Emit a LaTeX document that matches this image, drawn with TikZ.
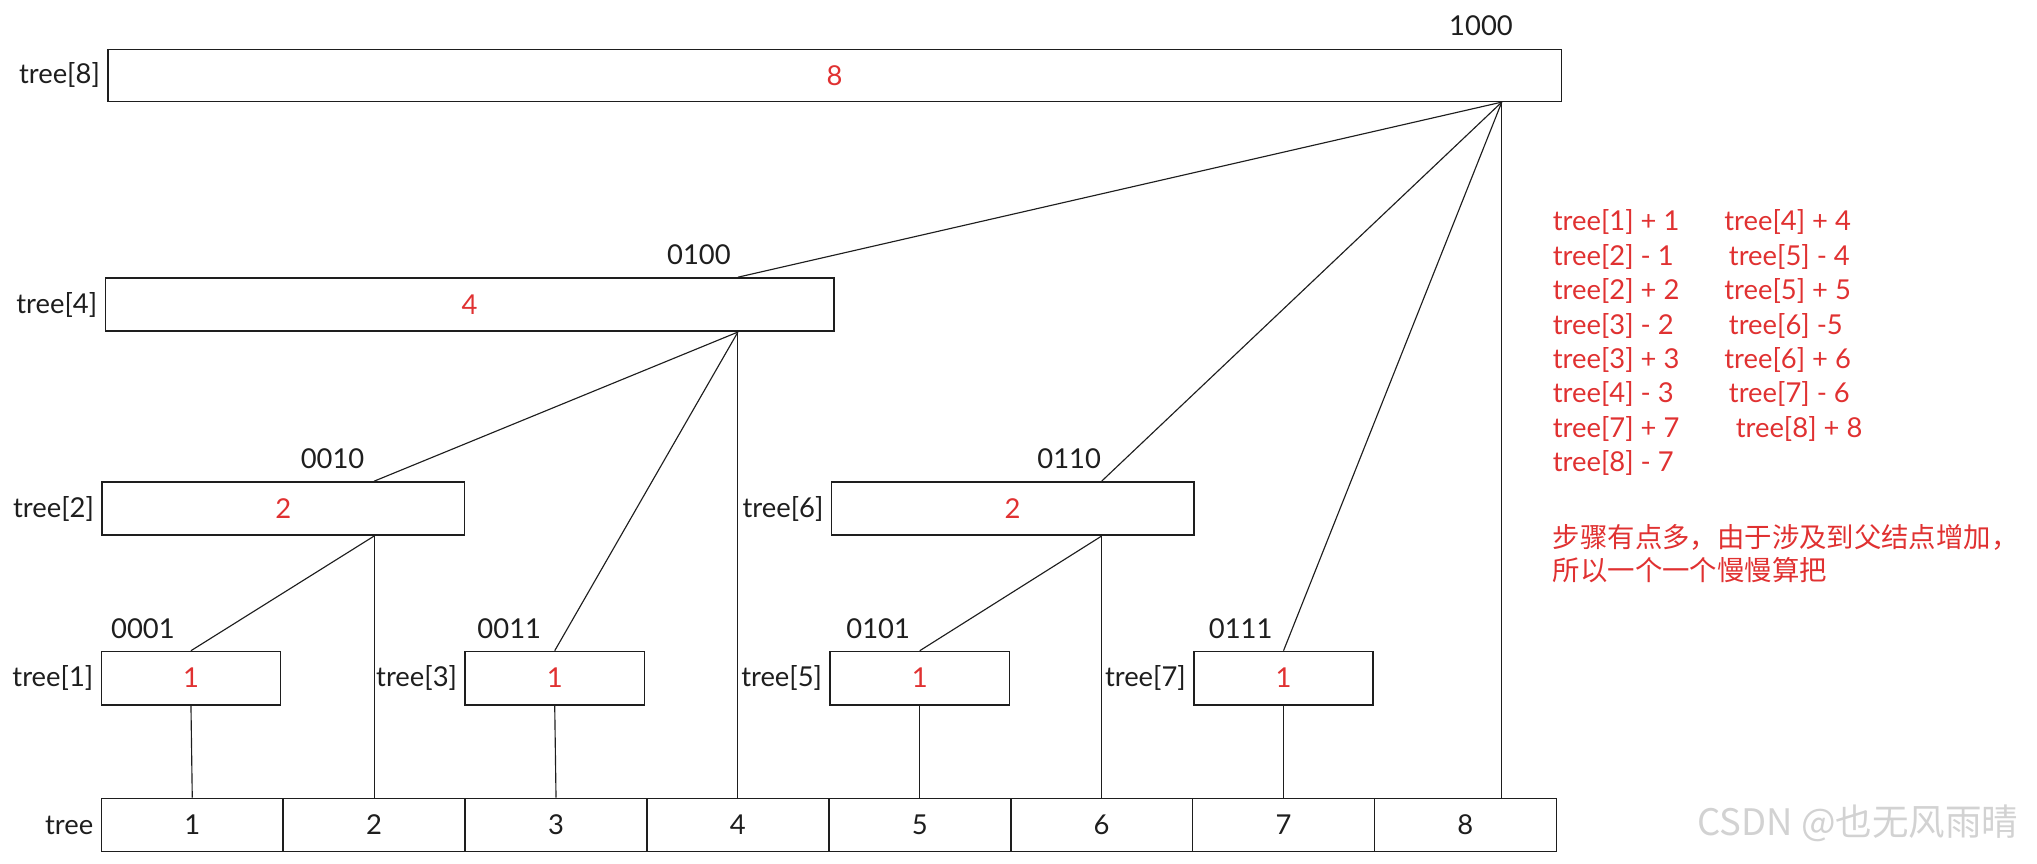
\documentclass[tikz,border=0pt]{standalone}
\usepackage{fontspec}
\setmainfont{Lato}
\newfontfamily\cjkfont{Noto Sans CJK SC}
\usetikzlibrary{positioning}
\definecolor{ink}{HTML}{1E1E1E}
\definecolor{pen}{HTML}{E03131}

\begin{document}
\begin{tikzpicture}[
        x=0.02cm, y=-0.02cm,
        cell/.style={draw=ink, line width=0.7pt, minimum height=0.82cm, inner sep=0pt, text=ink, font=\fontsize{12}{14}\selectfont},
        sum/.style={cell, text=pen},
        side/.style={text=ink, inner sep=3pt, font=\fontsize{12}{14}\selectfont},
        bits/.style={text=ink, inner sep=0pt, font=\fontsize{12}{14}\selectfont},
        link/.style={draw=ink, line width=0.5pt},
        note/.style={text=pen, inner sep=0pt, align=left, anchor=north west}
    ]

    \useasboundingbox (0,0) rectangle (1568,665);

    % the array itself
    \node[cell, minimum width=2.8cm] (b1) at (148,635) {1};
    \node[cell, minimum width=2.8cm] (b2) at (288,635) {2};
    \node[cell, minimum width=2.8cm] (b3) at (428,635) {3};
    \node[cell, minimum width=2.8cm] (b4) at (568,635) {4};
    \node[cell, minimum width=2.8cm] (b5) at (708,635) {5};
    \node[cell, minimum width=2.8cm] (b6) at (848,635) {6};
    \node[cell, minimum width=2.8cm] (b7) at (988,635) {7};
    \node[cell, minimum width=2.8cm] (b8) at (1128,635) {8};
    \node[side, left=0pt of b1] (s0) {tree};

    % tree[] cells, one row per level
    \node[sum, minimum width=2.76cm] (t1) at (147,522) {1};
    \node[sum, minimum width=2.76cm] (t3) at (427,522) {1};
    \node[sum, minimum width=2.76cm] (t5) at (708,522) {1};
    \node[sum, minimum width=2.76cm] (t7) at (988,522) {1};

    \node[sum, minimum width=5.58cm] (t2) at (218,391.5) {2};
    \node[sum, minimum width=5.58cm] (t6) at (779.5,391.5) {2};

    \node[sum, minimum width=11.22cm] (t4) at (361.5,234.5) {4};

    \node[sum, minimum width=22.38cm, minimum height=0.8cm] (t8) at (642.5,58) {8};
    \coordinate (k8) at (1156,58);

    \node[side, left=0pt of t1] (s1) {tree[1]};
    \node[side, left=0pt of t2] (s2) {tree[2]};
    \node[side, left=0pt of t3] (s3) {tree[3]};
    \node[side, left=0pt of t4] (s4) {tree[4]};
    \node[side, left=0pt of t5] (s5) {tree[5]};
    \node[side, left=0pt of t6] (s6) {tree[6]};
    \node[side, left=0pt of t7] (s7) {tree[7]};
    \node[side, left=0pt of t8] (s8) {tree[8]};

    % binary indices
    \node[bits] (c1) at (110,484) {0001};
    \node[bits] (c2) at (256,353) {0010};
    \node[bits] (c3) at (392,484) {0011};
    \node[bits] (c4) at (538,196) {0100};
    \node[bits] (c5) at (676,484) {0101};
    \node[bits] (c6) at (823,353) {0110};
    \node[bits] (c7) at (955,484) {0111};
    \node[bits] (c8) at (1140,20) {1000};

    % links
    \draw[link] (t8.south -| k8) -- (t4.north -| b4);
    \draw[link] (t8.south -| k8) -- (t6.north -| b6);
    \draw[link] (t8.south -| k8) -- (t7.north);
    \draw[link] (t8.south -| k8) -- (b8.north -| k8);
    \draw[link] (t4.south -| b4) -- (t2.north -| b2);
    \draw[link] (t4.south -| b4) -- (t3.north);
    \draw[link] (t4.south -| b4) -- (b4.north);
    \draw[link] (t2.south -| b2) -- (t1.north);
    \draw[link] (t2.south -| b2) -- (b2.north);
    \draw[link] (t6.south -| b6) -- (t5.north);
    \draw[link] (t6.south -| b6) -- (b6.north);
    \draw[link] (t1.south) -- (b1.north);
    \draw[link] (t3.south) -- (b3.north);
    \draw[link] (t5.south) -- (b5.north);
    \draw[link] (t7.south) -- (b7.north);

    % steps
    \node[note, font=\fontsize{12}{15.1}\selectfont] (ops1) at (1195,161) {tree[1] + 1\\tree[2] - 1\\tree[2] + 2\\tree[3] - 2\\tree[3] + 3\\tree[4] - 3\\tree[7] + 7\\tree[8] - 7};
    \node[note, font=\fontsize{12}{15.1}\selectfont] (ops2) at (1327,161) {tree[4] + 4\\\hspace*{2pt}tree[5] - 4\\tree[5] + 5\\\hspace*{2pt}tree[6] -5\\tree[6] + 6\\\hspace*{2pt}tree[7] - 6\\\hspace*{5pt}tree[8] + 8};
    \node[note, font=\cjkfont\fontsize{12}{14.7}\selectfont] (memo) at (1195,403) {步骤有点多，由于涉及到父结点增加，\\所以一个一个慢慢算把};

    \node[text=gray!35, inner sep=0pt, font=\cjkfont\fontsize{16}{18}\selectfont] (mark) at (1430,634) {CSDN @也无风雨晴};

\end{tikzpicture}
\end{document}
